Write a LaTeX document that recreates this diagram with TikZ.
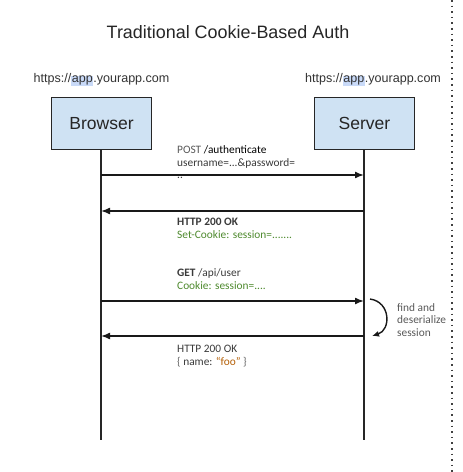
\documentclass[tikz,border=0pt]{standalone}
\usepackage{fontspec}
\setmainfont{Liberation Sans}
\newfontfamily\lblfont[Ligatures=TeX]{Carlito}
\usetikzlibrary{arrows.meta}
\definecolor{boxfill}{HTML}{CFE2F3}
\definecolor{hlblue}{HTML}{C9DAF8}
\definecolor{txtdark}{HTML}{3A3A3A}
\definecolor{cookiegreen}{HTML}{4E8A2E}
\definecolor{foobrown}{HTML}{B45F06}
\newcommand{\hlapp}{{\setlength{\fboxsep}{0.6pt}\colorbox{hlblue}{app}}}
\tikzset{
  actor/.style={draw=black!85, line width=1.6bp, fill=boxfill, minimum width=100bp, minimum height=52bp, font=\fontsize{17.6}{19}\selectfont, text=black!85},
  url/.style={font=\fontsize{12.6}{14}\selectfont, text=black!80, inner sep=0},
  lifeline/.style={draw=black!85, line width=1.5bp},
  msg/.style={draw=black!90, line width=1.5bp, -{Latex[length=9bp,width=7bp]}},
  lbl/.style={font=\lblfont\fontsize{11.4}{12.6}\selectfont, text=txtdark, align=left, inner sep=0, anchor=base west},
}
\begin{document}
\begin{tikzpicture}[x=1bp,y=-1bp]
\useasboundingbox (0,0) rectangle (463,472);
\fill[white] (0,0) rectangle (463,472);
% title
\node[font=\fontsize{18}{20}\selectfont, text=black!85] (title) at (228,32) {Traditional Cookie-Based Auth};
% urls
\node[url] (urlb) at (101.5,80) {https://\hlapp.yourapp.com};
\node[url] (urls) at (373,80) {https://\hlapp.yourapp.com};
% actors
\node[actor] (browser) at (101.5,123.5) {Browser};
\node[actor] (server) at (364.5,123.5) {Server};
% lifeline ends
\coordinate (bend) at (101,440);
\coordinate (send) at (364,440);
\draw[lifeline] (browser.south -| bend) -- (bend);
\draw[lifeline] (server.south -| send) -- (send);
% message anchors
\coordinate (b1) at (101,175); \coordinate (s1) at (364,175);
\coordinate (b2) at (101,211); \coordinate (s2) at (364,211);
\coordinate (b3) at (101,301); \coordinate (s3) at (364,301);
\coordinate (b4) at (101,336); \coordinate (s4) at (364,336);
\draw[msg] (b1) -- (s1);
\draw[msg] (s2) -- (b2);
\draw[msg] (b3) -- (s3);
\draw[msg] (s4) -- (b4);
% labels (anchor = baseline of the last line)
\node[lbl] (l1) at (177,179) {\textcolor{black!65}{POST} \textcolor{black}{/authenticate}\\username=...\&password=\\..};
\node[lbl] (l2) at (177,238.3) {\textbf{HTTP 200 OK}\\\textcolor{cookiegreen}{Set-Cookie: session=.......}};
\node[lbl] (l3) at (177,289) {\textbf{GET} /api/user\\\textcolor{cookiegreen}{Cookie: session=....}};
\node[lbl] (l4) at (177,365.5) {HTTP 200 OK\\\textcolor{black!60}{\{} name: \textcolor{foobrown}{“foo”} \textcolor{black!60}{\}}};
% self processing
\coordinate (c1) at (370,299);
\coordinate (c2) at (372,336);
\draw[line width=1.4bp, black!90, -{Latex[length=7bp,width=6bp]}] (c1) .. controls (391,302) and (391,330) .. (c2);
\node[lbl, text=black!65, font=\lblfont\fontsize{11.4}{12.3}\selectfont] (l5) at (397,336) {find and\\deserialize\\session};
% dotted border
\coordinate (d1) at (452,0);
\coordinate (d2) at (452,472);
\draw[black!75, line width=1.4bp, dash pattern=on 1.6bp off 4bp] (d1) -- (d2);
\end{tikzpicture}
\end{document}
